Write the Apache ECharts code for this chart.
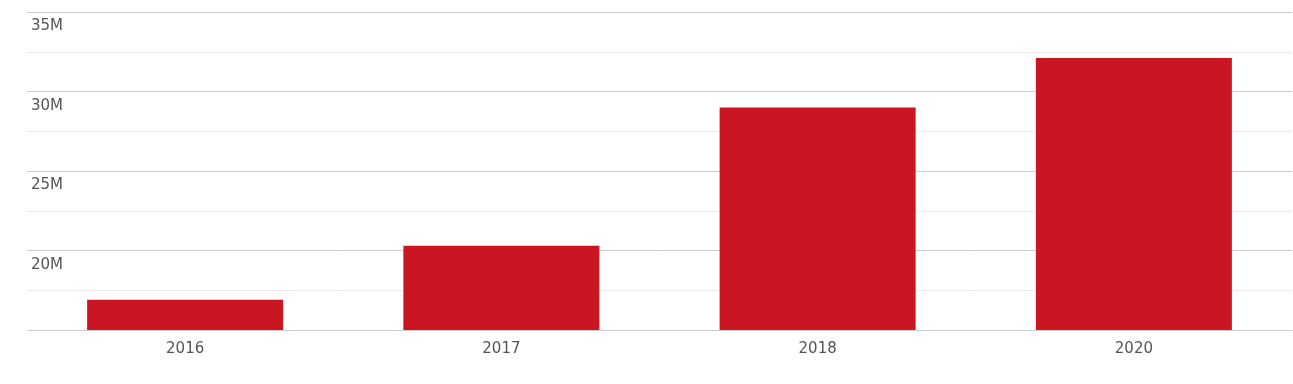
<!DOCTYPE html>
<html>
<head>
<meta charset="utf-8">
<script src="https://cdn.jsdelivr.net/npm/echarts@6/dist/echarts.min.js"></script>
<style>
html,body{margin:0;padding:0;background:#fff;}
#c{width:1293px;height:384px;}
</style>
</head>
<body>
<div id="c"></div>
<script>
const categories = ['2016', '2017', '2018', '2020'];
const values = [16.9e6, 20.3e6, 29.0e6, 32.1e6];
const yTicks = [15e6, 20e6, 25e6, 30e6, 35e6];

const chart = echarts.init(document.getElementById('c'), null, {renderer: 'canvas'});
chart.setOption({
  animation: false,
  grid: {left: 27, right: 1, top: 12, bottom: 54},
  xAxis: {
    type: 'category',
    data: categories,
    axisTick: {show: false},
    axisLine: {lineStyle: {color: '#cccccc'}},
    axisLabel: {color: '#555555', fontSize: 15, fontFamily: 'DejaVu Sans', margin: 12}
  },
  yAxis: {
    type: 'value',
    min: yTicks[0],
    max: yTicks[yTicks.length - 1],
    interval: 5e6,
    axisLine: {show: false},
    axisTick: {show: false},
    splitLine: {lineStyle: {color: '#cccccc'}},
    minorTick: {show: false, splitNumber: 2},
    minorSplitLine: {show: true, lineStyle: {color: '#ebebeb'}},
    axisLabel: {
      inside: true,
      showMinLabel: false,
      margin: 4,
      verticalAlign: 'top',
      padding: [7, 0, 0, 0],
      color: '#555555',
      fontSize: 15,
      fontFamily: 'DejaVu Sans',
      formatter: v => (v / 1e6) + 'M'
    }
  },
  series: [{
    type: 'bar',
    data: values,
    barWidth: 196,
    itemStyle: {color: '#C91622'}
  }]
});
</script>
</body>
</html>
